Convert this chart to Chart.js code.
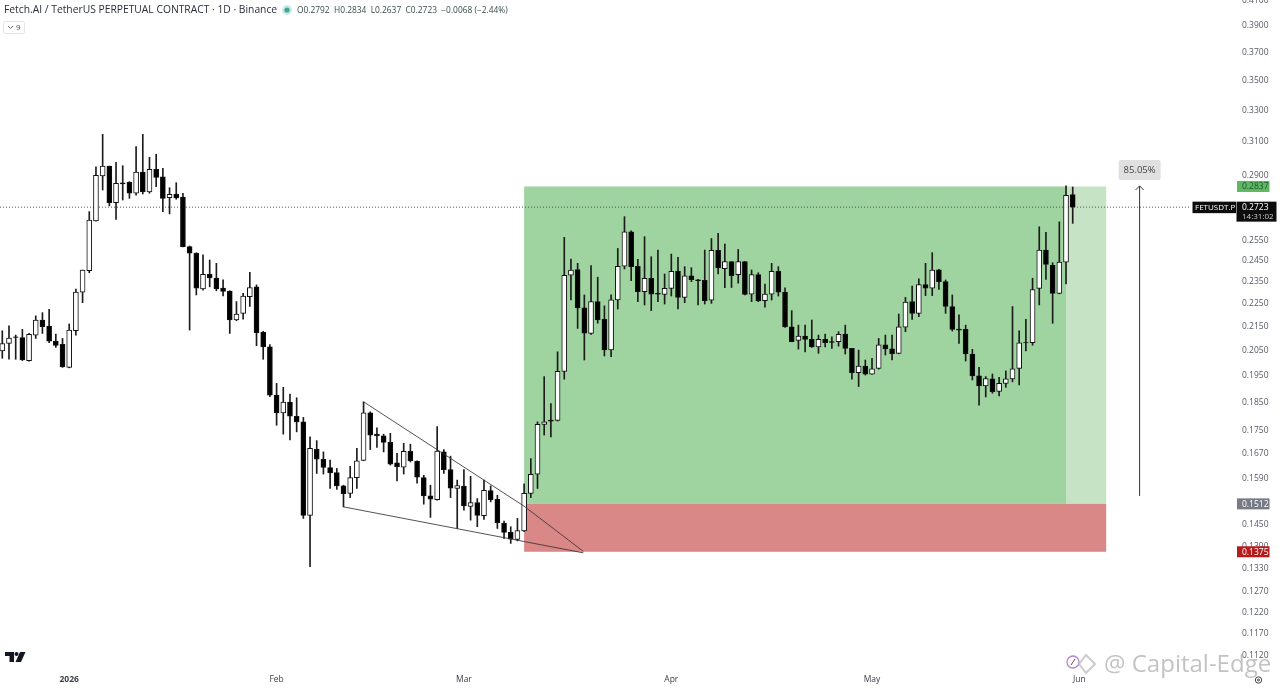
<!DOCTYPE html>
<html><head><meta charset="utf-8">
<style>html,body{margin:0;padding:0;background:#fff;overflow:hidden}canvas{display:block}</style>
<script src="https://cdn.jsdelivr.net/npm/chart.js@4"></script>
</head><body><canvas id="c" width="1280" height="689"></canvas>
<script>
const opens=[.2048,.2078,.2106,.2103,.2008,.2113,.2177,.2151,.2088,.2075,.1982,.2131,.2301,.2401,.2650,.2897,.2954,.2747,.2858,.2861,.2799,.2919,.2806,.2935,.2891,.2774,.2795,.2778,.2518,.2485,.2316,.2384,.2366,.2319,.2306,.2177,.2206,.2280,.2325,.2124,
.2064,.1876,.1811,.1850,.1799,.1779,.1478,.1685,.1652,.1625,.1609,.1567,.1544,.1593,.1648,.1811,.1736,.1730,.1708,.1640,.1626,.1678,.1645,.1593,.1536,.1525,.1676,.1618,.1559,.1566,.1504,.1516,.1477,.1552,.1526,.1455,.1429,.1409,.1433,.1544,
.1604,.1770,.1785,.1784,.1966,.2379,.2406,.2230,.2120,.2258,.2180,.2052,.2265,.2422,.2593,.2422,.2303,.2365,.2295,.2290,.2318,.2399,.2277,.2376,.2358,.2355,.2264,.2499,.2410,.2444,.2382,.2444,.2292,.2382,.2262,.2292,.2398,.2301,.2148,.2091,
.2109,.2095,.2064,.2095,.2086,.2086,.2117,.2058,.1961,.1987,.1955,.1978,.2073,.2056,.2038,.2146,.2258,.2206,.2335,.2319,.2405,.2349,.2236,.2138,.2137,.2035,.1949,.1910,.1937,.1890,.1920,.1937,.1978,.2082,.2081,.2318,.2501,.2426,.2295,.2442,.2792];
const highs=[.2131,.2152,.2113,.2137,.2120,.2195,.2209,.2224,.2117,.2099,.2160,.2315,.2404,.2699,.2950,.3146,.2954,.2976,.2956,.2864,.3070,.3146,.3006,.3024,.2941,.2830,.2858,.2799,.2521,.2488,.2477,.2452,.2436,.2357,.2307,.2258,.2295,.2393,.2334,.2129,
.2074,.1920,.1905,.1880,.1866,.1795,.1727,.1714,.1676,.1649,.1622,.1569,.1629,.1688,.1851,.1815,.1758,.1736,.1739,.1671,.1705,.1702,.1647,.1600,.1569,.1762,.1684,.1662,.1585,.1618,.1597,.1528,.1585,.1567,.1538,.1461,.1445,.1469,.1573,.1654,
.1779,.1946,.1845,.2044,.2565,.2457,.2436,.2288,.2425,.2370,.2239,.2288,.2509,.2672,.2598,.2455,.2568,.2468,.2501,.2385,.2481,.2465,.2420,.2415,.2360,.2501,.2559,.2585,.2531,.2444,.2504,.2444,.2404,.2391,.2338,.2436,.2420,.2321,.2218,.2155,
.2155,.2177,.2113,.2117,.2106,.2127,.2155,.2058,.2051,.2011,.2018,.2099,.2113,.2113,.2203,.2277,.2329,.2362,.2436,.2488,.2407,.2357,.2288,.2199,.2155,.2054,.1982,.1946,.1956,.1943,.1968,.2236,.2131,.2180,.2365,.2619,.2590,.2439,.2645,.2840,.2834];
const lows=[.2018,.2014,.2014,.2009,.2006,.2099,.2120,.2081,.2062,.1982,.1980,.2113,.2253,.2391,.2648,.2817,.2730,.2658,.2762,.2771,.2789,.2795,.2799,.2836,.2699,.2687,.2766,.2516,.2134,.2288,.2310,.2325,.2307,.2283,.2120,.2174,.2181,.2236,.2069,.2014,
.1870,.1767,.1736,.1716,.1744,.1469,.1335,.1606,.1604,.1559,.1556,.1503,.1531,.1559,.1647,.1684,.1691,.1676,.1633,.1582,.1604,.1643,.1575,.1511,.1472,.1523,.1606,.1531,.1440,.1493,.1464,.1445,.1466,.1518,.1440,.1412,.1398,.1405,.1431,.1531,
.1559,.1733,.1727,.1782,.1936,.2265,.2141,.2011,.2116,.2163,.2027,.2024,.2225,.2409,.2354,.2258,.2243,.2218,.2258,.2247,.2283,.2225,.2253,.2349,.2243,.2247,.2250,.2385,.2321,.2322,.2342,.2288,.2258,.2258,.2233,.2265,.2283,.2145,.2085,.2055,
.2044,.2062,.2038,.2064,.2058,.2067,.2035,.1936,.1908,.1952,.1954,.1975,.2031,.2011,.2036,.2127,.2180,.2192,.2285,.2285,.2313,.2206,.2130,.2078,.2007,.1933,.1839,.1869,.1883,.1873,.1905,.1926,.1914,.2048,.2071,.2243,.2360,.2163,.2293,.2338,.2637];
const closes=[.2078,.2100,.2103,.2011,.2116,.2177,.2148,.2088,.2070,.1984,.2134,.2301,.2404,.2654,.2901,.2954,.2747,.2855,.2851,.2799,.2919,.2806,.2935,.2889,.2771,.2793,.2773,.2518,.2485,.2319,.2384,.2366,.2316,.2304,.2177,.2203,.2283,.2322,.2123,.2064,
.1876,.1811,.1850,.1799,.1779,.1478,.1688,.1652,.1625,.1608,.1567,.1543,.1593,.1647,.1811,.1733,.1730,.1708,.1636,.1628,.1678,.1647,.1594,.1536,.1526,.1679,.1618,.1560,.1568,.1506,.1516,.1478,.1553,.1525,.1457,.1429,.1410,.1434,.1544,.1603,
.1770,.1779,.1781,.1966,.2379,.2403,.2230,.2121,.2258,.2177,.2052,.2266,.2422,.2593,.2420,.2303,.2365,.2292,.2291,.2318,.2398,.2277,.2376,.2358,.2354,.2262,.2499,.2414,.2444,.2377,.2444,.2290,.2382,.2261,.2292,.2398,.2301,.2147,.2086,.2109,
.2095,.2064,.2095,.2081,.2082,.2116,.2058,.1961,.1987,.1955,.1976,.2073,.2056,.2037,.2148,.2256,.2206,.2335,.2319,.2404,.2349,.2236,.2137,.2134,.2035,.1949,.1910,.1938,.1889,.1920,.1937,.1976,.2081,.2080,.2313,.2501,.2431,.2295,.2442,.2788,.2723];
const priceTicks=[.41,.39,.37,.35,.33,.31,.29,.255,.245,.235,.225,.215,.205,.195,.185,.175,.167,.159,.145,.139,.133,.127,.122,.117,.112];
const timeLabels=["2026","Feb","Mar","Apr","May","Jun"];
const timeTickIdx=[10,41,69,100,130,161];
const targetPrice=.2837, entryPrice=.1512, stopPrice=.1375, lastPrice=.2723;
const positionStartIdx=78, positionFillIdx=159, positionEndIdx=165;
const wedgeUpperX=[54,78,86.85], wedgeUpperY=[.1851,.1505,.1376];
const wedgeLowerX=[51,86.85], wedgeLowerY=[.1503,.1372];
const arrowX=[170,170], arrowY=[.1536,.2840];
const lastLineX=[-0.344,177.5];
const titleText="Fetch.AI / TetherUS PERPETUAL CONTRACT · 1D · Binance";
const ohlcText="O0.2792  H0.2834  L0.2637  C0.2723  −0.0068 (−2.44%)";
const watermark="@ Capital-Edge";

const xy=(xs,ys)=>xs.map((x,i)=>({x,y:ys[i]}));
const FONT='"Open Sans","Noto Sans",sans-serif';

const overlays={
 id:'overlays',
 beforeDatasetsDraw(ch){
  const {ctx,scales:{x,y}}=ch;
  const l=x.getPixelForValue(positionStartIdx),m=x.getPixelForValue(positionFillIdx),r=x.getPixelForValue(positionEndIdx);
  const t=y.getPixelForValue(targetPrice),e=y.getPixelForValue(entryPrice),s=y.getPixelForValue(stopPrice);
  ctx.save();
  ctx.fillStyle='#9fd3a0';ctx.fillRect(l,t,m-l,e-t);
  ctx.fillStyle='#c6e4c5';ctx.fillRect(m,t,r-m,e-t);
  ctx.fillStyle='#da8788';ctx.fillRect(l,e,r-l,s-e);
  ctx.restore();
 },
 afterDraw(ch){
  const {ctx,scales:{x,y}}=ch;
  ctx.save();
  ctx.textBaseline='middle';
  // arrow head
  const ax=x.getPixelForValue(arrowX[1]),ay=y.getPixelForValue(arrowY[1]);
  ctx.strokeStyle='#333';ctx.lineWidth=1;
  ctx.beginPath();ctx.moveTo(ax-4,ay+4);ctx.lineTo(ax,ay);ctx.lineTo(ax+4,ay+4);ctx.stroke();
  // percent label
  ctx.fillStyle='#e0e0e0';ctx.beginPath();ctx.roundRect(ax-21,ay-26,42,20,2);ctx.fill();
  ctx.fillStyle='#444';ctx.font='9.5px '+FONT;ctx.textAlign='center';ctx.fillText('85.05%',ax,ay-16);
  // price tags
  const tag=(v,bg,fg,lab)=>{const py=y.getPixelForValue(v);
    ctx.fillStyle=bg;ctx.fillRect(1237,py-5.5,32.5,11);
    ctx.fillStyle=fg;ctx.font='8.5px '+FONT;ctx.textAlign='left';ctx.fillText(lab,1242,py+.5);};
  tag(targetPrice,'#5fb665','#1d5a25',targetPrice.toFixed(4));
  tag(entryPrice,'#787b86','#fff',entryPrice.toFixed(4));
  tag(stopPrice,'#b71c1c','#fff',stopPrice.toFixed(4));
  const ly=y.getPixelForValue(lastPrice);
  ctx.fillStyle='#0c0c0c';ctx.fillRect(1192.5,ly-5.5,43.5,11.5);ctx.fillRect(1236.5,ly-5.5,40,20);
  ctx.fillStyle='#fff';ctx.font='8px '+FONT;ctx.fillText('FETUSDT.P',1195,ly+.5);
  ctx.font='8.5px '+FONT;ctx.fillText(lastPrice.toFixed(4),1242,ly+.5);
  ctx.fillStyle='#ccc';ctx.font='8px '+FONT;ctx.fillText('14:31:02',1242,ly+9.5);
  // header
  ctx.fillStyle='#2a2e39';ctx.font='10.3px '+FONT;ctx.textAlign='left';ctx.fillText(titleText,4,10);
  ctx.fillStyle='rgba(38,166,154,.25)';ctx.beginPath();ctx.arc(287,10,5,0,7);ctx.fill();
  ctx.fillStyle='#3fa796';ctx.beginPath();ctx.arc(287,10,2.6,0,7);ctx.fill();
  ctx.fillStyle='#3a4a4a';ctx.font='8.4px '+FONT;ctx.fillText(ohlcText,297,10.5);
  // collapse button
  ctx.strokeStyle='#e3e3e3';ctx.beginPath();ctx.roundRect(3.5,21.5,21,12,2);ctx.stroke();
  ctx.strokeStyle='#666';ctx.beginPath();ctx.moveTo(8,26);ctx.lineTo(10.5,28.5);ctx.lineTo(13,26);ctx.stroke();
  ctx.fillStyle='#444';ctx.font='8px '+FONT;ctx.fillText('9',16,27.5);
  // logo
  ctx.fillStyle='#131722';
  ctx.fillRect(5,652,9,4);ctx.fillRect(9.5,652,4.5,10);
  ctx.beginPath();ctx.arc(16.5,654,2,0,7);ctx.fill();
  ctx.beginPath();ctx.moveTo(20,652);ctx.lineTo(25.5,652);ctx.lineTo(21,662);ctx.lineTo(15.5,662);ctx.closePath();ctx.fill();
  // settings glyph
  ctx.strokeStyle='#444';ctx.beginPath();ctx.arc(1258.5,680,3.2,0,7);ctx.stroke();
  ctx.beginPath();ctx.arc(1258.5,680,1,0,7);ctx.stroke();
  // watermark
  ctx.strokeStyle='rgba(170,120,200,.9)';ctx.lineWidth=1.3;ctx.beginPath();ctx.arc(1073,662,6,0,7);ctx.stroke();
  ctx.strokeStyle='#555';ctx.lineWidth=1;ctx.beginPath();ctx.moveTo(1075,659);ctx.lineTo(1071,665);ctx.stroke();
  ctx.strokeStyle='rgba(190,190,190,.8)';ctx.lineWidth=2;ctx.beginPath();ctx.moveTo(1086,655);ctx.lineTo(1095,664);ctx.lineTo(1086,673);ctx.lineTo(1079,664);ctx.closePath();ctx.stroke();
  ctx.fillStyle='rgba(175,175,175,.75)';ctx.font='24px '+FONT;ctx.textAlign='left';ctx.fillText(watermark,1104,665);
  ctx.restore();
 }
};

new Chart(document.getElementById('c'),{
 data:{datasets:[
  {type:'bar',label:'wick',order:4,grouped:false,barThickness:1,backgroundColor:'#1c1c1c',borderWidth:0,
   data:opens.map((o,i)=>({x:i,y:[lows[i],highs[i]]}))},
  {type:'bar',label:'body',order:3,grouped:false,barThickness:5,borderColor:'#111',borderWidth:1,borderSkipped:false,
   backgroundColor:opens.map((o,i)=>closes[i]>=o?'#ffffff':'#000000'),
   data:opens.map((o,i)=>({x:i,y:[Math.min(o,closes[i]),Math.max(o,closes[i])]}))},
  {type:'line',label:'wedge upper',order:2,data:xy(wedgeUpperX,wedgeUpperY),borderColor:'rgba(60,50,50,.85)',borderWidth:1,pointRadius:0,tension:0},
  {type:'line',label:'wedge lower',order:2,data:xy(wedgeLowerX,wedgeLowerY),borderColor:'rgba(60,50,50,.85)',borderWidth:1,pointRadius:0,tension:0},
  {type:'line',label:'arrow',order:2,data:xy(arrowX,arrowY),borderColor:'#333',borderWidth:1,pointRadius:0,tension:0},
  {type:'line',label:'last',order:5,data:xy(lastLineX,[lastPrice,lastPrice]),borderColor:'#555',borderWidth:1,borderDash:[1,2],pointRadius:0,tension:0}
 ]},
 plugins:[overlays],
 options:{
  responsive:false,animation:false,devicePixelRatio:1,
  layout:{padding:0,autoPadding:false},
  plugins:{legend:{display:false},tooltip:{enabled:false},title:{display:false}},
  scales:{
   x:{type:'linear',offset:false,min:-0.344,max:183.96,grid:{display:false,drawTicks:false},border:{display:false},
    afterBuildTicks(s){s.ticks=timeTickIdx.map(v=>({value:v}));},
    afterFit(s){s.height=21;s.paddingLeft=0;s.paddingRight=0;},
    ticks:{autoSkip:false,maxRotation:0,padding:6,color:'#3a3e48',
     font:c=>({family:FONT,size:8.5,weight:c.index===0?'bold':'normal'}),
     callback:v=>timeLabels[timeTickIdx.indexOf(v)]}},
   y:{type:'logarithmic',position:'right',min:.1092,max:.4106,grid:{display:false,drawTicks:false},border:{display:false},
    afterBuildTicks(s){s.ticks=priceTicks.map(v=>({value:v}));},
    afterFit(s){s.width=47;s.paddingTop=0;s.paddingBottom=0;},
    ticks:{autoSkip:false,padding:9,color:'#555a66',font:{family:FONT,size:8.5},callback:v=>v.toFixed(4)}}
  }
 }
});
</script></body></html>
